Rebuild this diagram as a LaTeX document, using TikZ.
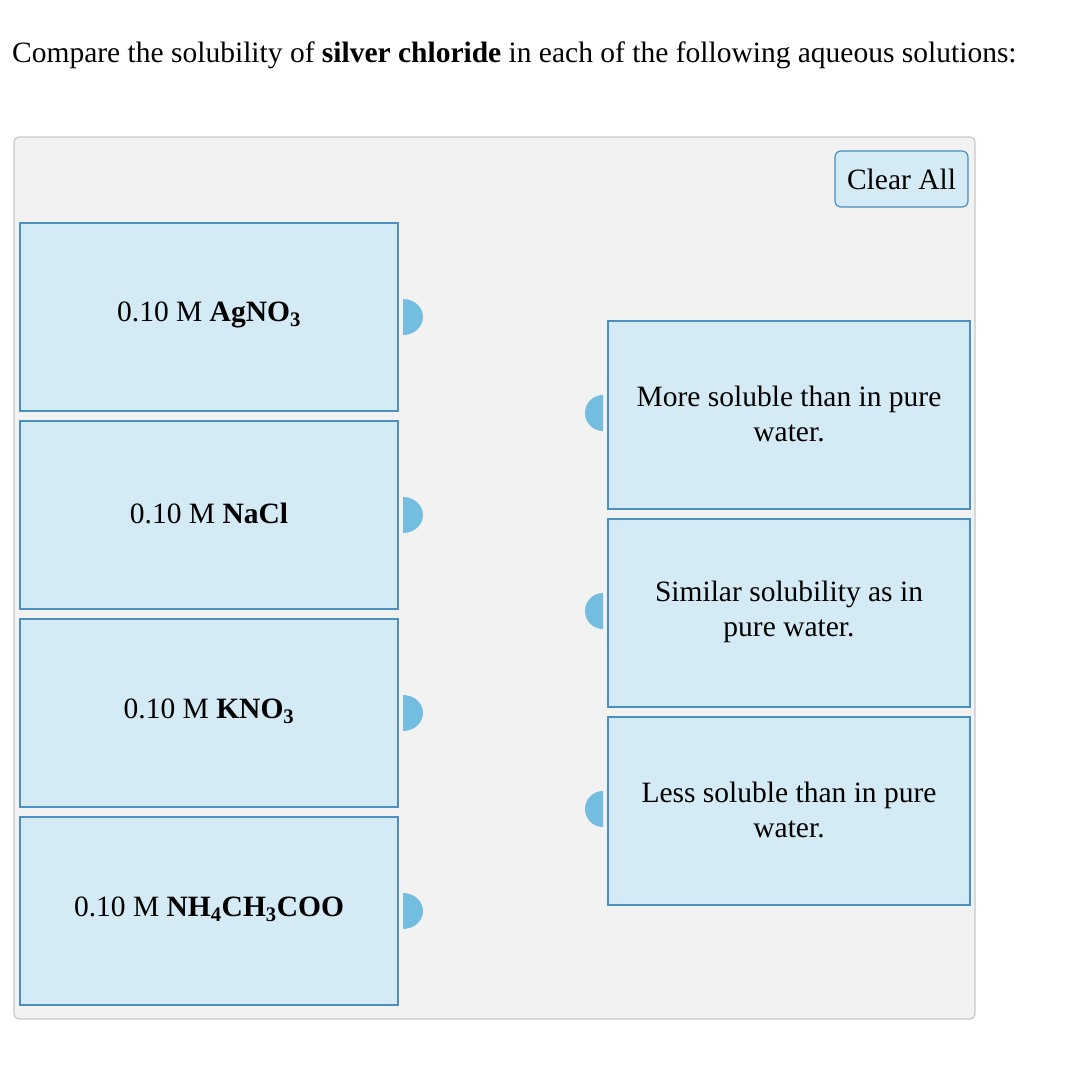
\documentclass[tikz,border=0pt]{standalone}
\usepackage{fontspec}
\setmainfont{Liberation Serif}
\begin{document}
\begin{tikzpicture}[x=1pt,y=-1pt,
  lbl/.style={font=\fontsize{29.5}{35}\selectfont, align=center}]
\definecolor{cardfill}{HTML}{D4EAF5}
\definecolor{cardline}{HTML}{4A8FBF}
\definecolor{tabc}{HTML}{72BDE0}
\tikzset{card/.style={draw=cardline, fill=cardfill, line width=1.2pt}, tab/.style={fill=tabc}}
\useasboundingbox (0,0) rectangle (1076,1070);
\node[lbl, anchor=base west, inner sep=0] (title) at (12,63) {Compare the solubility of \textbf{silver chloride} in each of the following aqueous solutions:};
\draw[draw=black!22, fill=black!5, rounded corners=5pt, line width=1.2pt] (14,137) rectangle (975,1019);
\draw[card, rounded corners=6pt] (835,151) rectangle (968,207);
\node[lbl] (clear) at (901.5,179) {Clear All};
\foreach \y/\t [count=\i] in {223/{0.10 M \textbf{AgNO\textsubscript{3}}},421/{0.10 M \textbf{NaCl}},619/{0.10 M \textbf{KNO\textsubscript{3}}},817/{0.10 M \textbf{NH\textsubscript{4}CH\textsubscript{3}COO}}}{
  \draw[card] (20,\y) rectangle (398,\y+188);
  \node[lbl] (l\i) at (209,\y+92) {\t};
  \fill[tab] (403,\y+76) arc[start angle=-90,end angle=90,x radius=20,y radius=18] -- cycle;
}
\foreach \y/\t [count=\i] in {321/{More soluble than in pure\\water.},519/{Similar solubility as in\\pure water.},717/{Less soluble than in pure\\water.}}{
  \draw[card] (608,\y) rectangle (970,\y+188);
  \node[lbl] (r\i) at (789,\y+93) {\t};
  \fill[tab] (603,\y+74) arc[start angle=-90,end angle=-270,x radius=18,y radius=18] -- cycle;
}
\end{tikzpicture}
\end{document}
